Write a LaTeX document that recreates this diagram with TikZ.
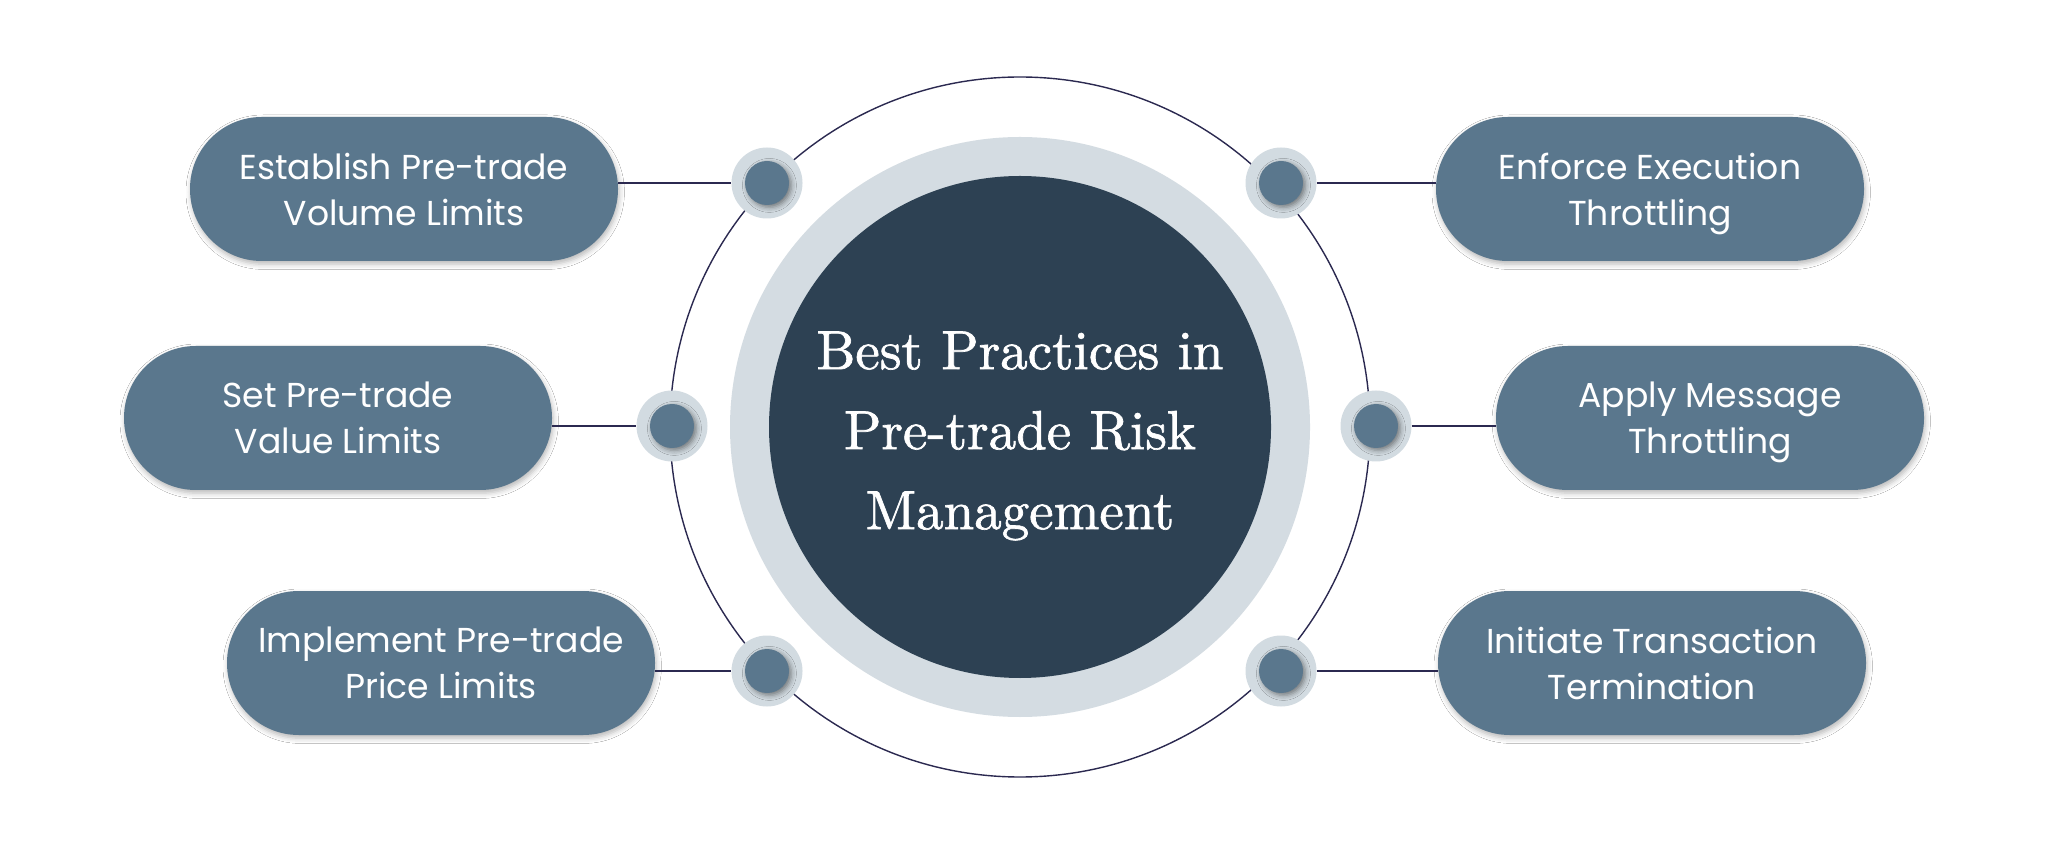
\documentclass[tikz,border=0pt]{standalone}
\usepackage{fontspec}
\setmainfont{Poppins}
\newfontfamily\titlefont[FakeBold=1.2]{lmroman10-regular.otf}
\usetikzlibrary{shadows.blur}
\definecolor{pillc}{HTML}{5A778D}
\definecolor{darkc}{HTML}{2D4153}
\definecolor{ringc}{HTML}{D4DCE2}
\definecolor{linec}{HTML}{2B2950}
\definecolor{haloc}{HTML}{D2DBE1}
\begin{document}
\begin{tikzpicture}[x=0.5pt,y=-0.5pt,
  pill/.style={fill=pillc, rounded corners=35.9pt, minimum width=214pt, minimum height=72pt,
    inner sep=0pt, text=white, align=center, text depth=0pt, font=\fontsize{17.3}{23}\selectfont,
    blur shadow={shadow xshift=0.6pt, shadow yshift=-1.6pt, shadow blur radius=2.6pt, shadow opacity=28}},
  halo/.style={circle, fill=haloc, minimum size=35.5pt, inner sep=0pt},
  dotc/.style={circle, fill=pillc, minimum size=22pt, inner sep=0pt,
    blur shadow={shadow xshift=1.2pt, shadow yshift=-1.2pt, shadow blur radius=2.5pt, shadow opacity=45}},
  conn/.style={draw=linec, line width=0.8pt},
  orbit/.style={circle, draw=linec, line width=0.7pt, minimum size=350pt, inner sep=0pt},
  ringn/.style={circle, fill=ringc, minimum size=290pt, inner sep=0pt},
  core/.style={circle, fill=darkc, minimum size=251pt, inner sep=0pt},
  title/.style={text=white, align=center, inner sep=0pt, font=\titlefont\fontsize{27.5}{40}\selectfont}
]
\fill[white] (0,0) rectangle (2048,854);
\useasboundingbox (0,0) rectangle (2048,854);

\node[orbit] (orb) at (1020,427) {};
\node[ringn] (rng) at (1020,427) {};
\node[core] (ctr) at (1020,427) {};
\node[title] (ttl) at (1020,436) {Best Practices in\\Pre-trade Risk\\Management};

% pills
\node[pill] (p1) at (404,189) {Establish Pre-trade\\Volume Limits};
\node[pill] (p2) at (338,418) {Set Pre-trade\\Value Limits};
\node[pill] (p3) at (441,663) {Implement Pre-trade\\Price Limits};
\node[pill] (p4) at (1650,189) {Enforce Execution\\Throttling};
\node[pill] (p5) at (1710,418) {Apply Message\\Throttling};
\node[pill] (p6) at (1652,663) {Initiate Transaction\\Termination};

% halos
\node[halo] (h1) at (767,183) {};
\node[halo] (h2) at (672,426) {};
\node[halo] (h3) at (767,671) {};
\node[halo] (h4) at (1281,183) {};
\node[halo] (h5) at (1376,426) {};
\node[halo] (h6) at (1281,671) {};

% connectors
\draw[conn] (p1.east |- h1) -- (h1.west);
\draw[conn] (p2.east |- h2) -- (h2.west);
\draw[conn] (p3.east |- h3) -- (h3.west);
\draw[conn] (h4.east) -- (p4.west |- h4);
\draw[conn] (h5.east) -- (p5.west |- h5);
\draw[conn] (h6.east) -- (p6.west |- h6);

% inner dots
\node[dotc] (c1) at (h1) {};
\node[dotc] (c2) at (h2) {};
\node[dotc] (c3) at (h3) {};
\node[dotc] (c4) at (h4) {};
\node[dotc] (c5) at (h5) {};
\node[dotc] (c6) at (h6) {};
\end{tikzpicture}
\end{document}
